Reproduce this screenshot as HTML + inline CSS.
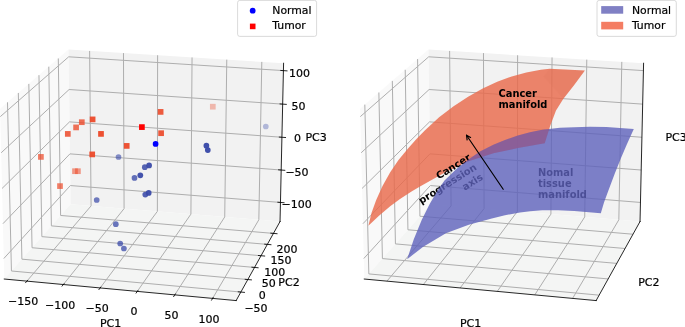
<!DOCTYPE html>
<html><head><meta charset="utf-8"><title>PCA manifolds</title>
<style>html,body{margin:0;padding:0;background:#fff;}svg{display:block;}text{stroke:#000;stroke-width:0.2px;}text.b{stroke:none;}</style>
</head><body>
<svg width="685" height="327" viewBox="0 0 685 327" font-family="'DejaVu Sans', 'Liberation Sans', sans-serif" font-size="11" fill="#000">
<rect width="685" height="327" fill="#fff"/>
<polygon points="4.29,279.04 70.61,204.19 68.59,49.6 0.11,108.68" fill="#f9f9f9" />
<polygon points="70.61,204.19 280.04,221.53 283.59,63.26 68.59,49.6" fill="#f2f2f2" />
<polygon points="4.29,279.04 236.13,300.58 280.04,221.53 70.61,204.19" fill="#f4f5f4" />
<g stroke="#aeaeae" stroke-width="1.0" fill="none" stroke-linejoin="round">
<polyline points="26.91,281.14 91.09,205.89 89.61,50.94"/>
<polyline points="63.37,284.53 124.09,208.62 123.47,53.09"/>
<polyline points="100.16,287.95 157.36,211.37 157.61,55.26"/>
<polyline points="137.29,291.4 190.91,214.15 192.05,57.44"/>
<polyline points="174.77,294.88 224.73,216.95 226.78,59.65"/>
<polyline points="212.6,298.39 258.84,219.77 261.81,61.87"/>
<polyline points="240.86,292.06 11.43,270.99 7.49,102.31"/>
<polyline points="247.81,279.54 21.9,259.17 18.33,92.96"/>
<polyline points="254.54,267.44 32.05,247.72 28.82,83.91"/>
<polyline points="261.04,255.73 41.87,236.63 38.96,75.16"/>
<polyline points="267.34,244.39 51.39,225.88 48.79,66.69"/>
<polyline points="273.45,233.4 60.62,215.46 58.31,58.48"/>
<polyline points="3.79,258.54 70.37,185.54 280.47,202.44"/>
<polyline points="2.94,223.7 69.95,153.87 281.2,170.03"/>
<polyline points="2.07,188.44 69.54,121.86 281.93,137.26"/>
<polyline points="1.19,152.75 69.11,89.5 282.67,104.13"/>
<polyline points="0.31,116.63 68.69,56.8 283.43,70.62"/>
</g>
<g stroke="#000" stroke-width="0.85" fill="none" stroke-linecap="square">
<polyline points="4.29,279.04 236.13,300.58"/>
<polyline points="236.13,300.58 280.04,221.53"/>
<polyline points="280.04,221.53 283.59,63.26"/>
<polyline points="27.56,280.38 25.61,282.67"/>
<polyline points="63.99,283.75 62.12,286.09"/>
<polyline points="100.76,287.15 98.96,289.55"/>
<polyline points="137.86,290.58 136.15,293.04"/>
<polyline points="175.31,294.04 173.69,296.56"/>
<polyline points="213.11,297.53 211.59,300.12"/>
<polyline points="238.27,291.82 244.45,292.38"/>
<polyline points="245.22,279.31 251.4,279.87"/>
<polyline points="251.95,267.21 258.12,267.76"/>
<polyline points="258.45,255.5 264.63,256.04"/>
<polyline points="264.75,244.17 270.93,244.69"/>
<polyline points="270.85,233.18 277.03,233.7"/>
<polyline points="277.88,202.24 284.06,202.73"/>
<polyline points="278.6,169.83 284.79,170.31"/>
<polyline points="279.34,137.07 285.52,137.52"/>
<polyline points="280.08,103.95 286.27,104.37"/>
<polyline points="280.83,70.46 287.02,70.86"/>
</g>
<text x="23.2" y="304.8" text-anchor="middle" >−150</text>
<text x="60.2" y="308.6" text-anchor="middle" >−100</text>
<text x="97.2" y="312" text-anchor="middle" >−50</text>
<text x="133.9" y="315.3" text-anchor="middle" >0</text>
<text x="171.6" y="318.7" text-anchor="middle" >50</text>
<text x="209.1" y="322.5" text-anchor="middle" >100</text>
<text x="286.9" y="252.5" text-anchor="middle" >200</text>
<text x="281" y="264.3" text-anchor="middle" >150</text>
<text x="274.8" y="275.6" text-anchor="middle" >100</text>
<text x="268.7" y="286.8" text-anchor="middle" >50</text>
<text x="262.3" y="299.2" text-anchor="middle" >0</text>
<text x="256" y="312.1" text-anchor="middle" >−50</text>
<text x="299.6" y="76.9" text-anchor="middle" >100</text>
<text x="298.6" y="110.2" text-anchor="middle" >50</text>
<text x="297.5" y="142.4" text-anchor="middle" >0</text>
<text x="297" y="175.5" text-anchor="middle" >−50</text>
<text x="296.7" y="208" text-anchor="middle" >−100</text>
<text x="110.6" y="326.6" text-anchor="middle" >PC1</text>
<text x="289" y="286.3" text-anchor="middle" >PC2</text>
<text x="316.1" y="141" text-anchor="middle" >PC3</text>
<rect x="89.75" y="116.55" width="5.7" height="5.7" fill="#ec4a2a" fill-opacity="0.95"/>
<rect x="78.95" y="119.35" width="5.7" height="5.7" fill="#ec4a2a" fill-opacity="0.8"/>
<rect x="73.25" y="124.55" width="5.7" height="5.7" fill="#ec4a2a" fill-opacity="0.78"/>
<rect x="64.95" y="131.05" width="5.7" height="5.7" fill="#ec4a2a" fill-opacity="0.85"/>
<rect x="98.15" y="131.05" width="5.7" height="5.7" fill="#ec4a2a" fill-opacity="0.97"/>
<rect x="123.85" y="143.05" width="5.7" height="5.7" fill="#ec4a2a" fill-opacity="0.95"/>
<rect x="89.35" y="151.55" width="5.7" height="5.7" fill="#ec4a2a" fill-opacity="0.95"/>
<rect x="38.05" y="154.05" width="5.7" height="5.7" fill="#ec4a2a" fill-opacity="0.72"/>
<rect x="72.15" y="168.35" width="5.7" height="5.7" fill="#ec4a2a" fill-opacity="0.55"/>
<rect x="75.05" y="168.35" width="5.7" height="5.7" fill="#ec4a2a" fill-opacity="0.55"/>
<rect x="57.15" y="183.25" width="5.7" height="5.7" fill="#ec4a2a" fill-opacity="0.7"/>
<rect x="157.75" y="109.05" width="5.7" height="5.7" fill="#ec4a2a" fill-opacity="0.9"/>
<rect x="158.25" y="130.35" width="5.7" height="5.7" fill="#ec4a2a" fill-opacity="0.92"/>
<rect x="209.95" y="103.85" width="5.7" height="5.7" fill="#ec4a2a" fill-opacity="0.35"/>
<circle cx="118.5" cy="157" r="2.85" fill="#3a4aa8" fill-opacity="0.62"/>
<circle cx="149.1" cy="165.4" r="2.85" fill="#3a4aa8" fill-opacity="0.95"/>
<circle cx="144.8" cy="167.2" r="2.85" fill="#3a4aa8" fill-opacity="0.85"/>
<circle cx="140.3" cy="175.3" r="2.85" fill="#3a4aa8" fill-opacity="0.95"/>
<circle cx="134.5" cy="177.9" r="2.85" fill="#3a4aa8" fill-opacity="0.78"/>
<circle cx="148.7" cy="192.9" r="2.85" fill="#3a4aa8" fill-opacity="0.95"/>
<circle cx="145.3" cy="194.6" r="2.85" fill="#3a4aa8" fill-opacity="0.88"/>
<circle cx="96.7" cy="200" r="2.85" fill="#3a4aa8" fill-opacity="0.72"/>
<circle cx="115.8" cy="224.2" r="2.85" fill="#3a4aa8" fill-opacity="0.75"/>
<circle cx="120.2" cy="243.5" r="2.85" fill="#3a4aa8" fill-opacity="0.75"/>
<circle cx="123.9" cy="248.5" r="2.85" fill="#3a4aa8" fill-opacity="0.75"/>
<circle cx="206.4" cy="145.7" r="2.85" fill="#3a4aa8" fill-opacity="0.97"/>
<circle cx="207.8" cy="150.1" r="2.85" fill="#3a4aa8" fill-opacity="0.97"/>
<circle cx="265.8" cy="126.5" r="2.85" fill="#3a4aa8" fill-opacity="0.35"/>
<rect x="139.05" y="124.25" width="5.7" height="5.7" fill="#f00"/>
<circle cx="155.6" cy="143.9" r="2.85" fill="#00f"/>
<rect x="237.6" y="0.4" width="79.00000000000003" height="36.0" rx="2.2" ry="2.2" fill="#fff" fill-opacity="0.8" stroke="#ccc" stroke-opacity="0.8" stroke-width="0.9"/>
<circle cx="252.7" cy="10.7" r="2.9" fill="#00f"/>
<rect x="249.9" y="23.6" width="5.6" height="5.6" fill="#f00"/>
<text x="272.3" y="13.5" text-anchor="start" font-size="10.85">Normal</text>
<text x="272.3" y="29.2" text-anchor="start" font-size="10.85">Tumor</text>
<polygon points="364.29,279.04 430.61,204.19 428.59,49.6 360.11,108.68" fill="#f9f9f9" />
<polygon points="430.61,204.19 640.04,221.53 643.59,63.26 428.59,49.6" fill="#f2f2f2" />
<polygon points="364.29,279.04 596.13,300.58 640.04,221.53 430.61,204.19" fill="#f4f5f4" />
<g stroke="#aeaeae" stroke-width="1.0" fill="none" stroke-linejoin="round">
<polyline points="386.91,281.14 451.09,205.89 449.61,50.94"/>
<polyline points="423.37,284.53 484.09,208.62 483.47,53.09"/>
<polyline points="460.16,287.95 517.36,211.37 517.61,55.26"/>
<polyline points="497.29,291.4 550.91,214.15 552.05,57.44"/>
<polyline points="534.77,294.88 584.73,216.95 586.78,59.65"/>
<polyline points="572.6,298.39 618.84,219.77 621.81,61.87"/>
<polyline points="599.15,295.15 368.84,273.91 364.82,104.62"/>
<polyline points="608.15,278.93 382.41,258.59 378.86,92.5"/>
<polyline points="616.78,263.4 395.43,243.9 392.32,80.9"/>
<polyline points="625.05,248.51 407.93,229.79 405.21,69.77"/>
<polyline points="632.99,234.22 419.93,216.24 417.59,59.09"/>
<polyline points="363.79,258.54 430.37,185.54 640.47,202.44"/>
<polyline points="362.94,223.7 429.95,153.87 641.2,170.03"/>
<polyline points="362.07,188.44 429.54,121.86 641.93,137.26"/>
<polyline points="361.19,152.75 429.11,89.5 642.67,104.13"/>
<polyline points="360.31,116.63 428.69,56.8 643.43,70.62"/>
</g>
<g stroke="#000" stroke-width="0.85" fill="none" stroke-linecap="square">
<polyline points="364.29,279.04 596.13,300.58"/>
<polyline points="596.13,300.58 640.04,221.53"/>
<polyline points="640.04,221.53 643.59,63.26"/>
</g>
<text x="470.6" y="326.6" text-anchor="middle" >PC1</text>
<text x="648.8" y="285.9" text-anchor="middle" >PC2</text>
<text x="665.4" y="140.7" text-anchor="start" >PC3</text>
<polygon points="368.4,225.7 371.5,213 376.1,200.3 382.5,186 390.2,172.2 398.5,160 407.8,148.8 416,139.6 424.5,130.7 439.1,117.3 453.6,106.2 468.1,96.7 482.7,88.6 497.2,81.8 511.7,76.5 526.3,72.5 540.8,69.8 549.6,68.7 584.9,70.4 574.2,84.9 563.2,98.9 556,110.6 550.5,125 544.7,143.2 517.9,148 493.4,153.3 467.7,161.4 444.5,172.8 432,179.8 420,186.5 411.5,191.5 400,199 390.2,206.3 379,215.8" fill="#e96a4c" fill-opacity="0.82"/>
<polygon points="549.6,68.9 584.9,70.4 563.5,98.9 543.2,76.4" fill="#b0402c" fill-opacity="0.04"/>
<text transform="translate(498.5,96.7)" class="b" font-weight="bold" font-size="9.9"><tspan x="0" y="0">Cancer</tspan><tspan x="0" y="11.1">manifold</tspan></text>
<text transform="translate(538,176.2)" class="b" font-weight="bold" font-size="9.9"><tspan x="0" y="0">Nomal</tspan><tspan x="0" y="11">tissue</tspan><tspan x="0" y="22">manifold</tspan></text>
<text transform="translate(477.5,169) rotate(-32)" text-anchor="end" class="b" font-weight="bold" font-size="9.9"><tspan x="0" y="-11.6">Cancer</tspan><tspan x="0" y="0">progression</tspan><tspan x="0" y="11.6">axis</tspan></text>
<polygon points="407.1,259.2 413.8,239.3 421.8,219.8 429.8,203.8 437.9,190 444.5,180.5 456.7,168.7 468.9,159.2 480,151.4 493.4,144.7 505,140 517.9,135.6 530,132.3 542.4,129.8 560,127.8 574.3,127.3 590,126.8 606.4,127.1 620,127.9 633.8,129 627,144 621,158 614.8,173.5 608.6,190 604,202.6 600.8,213.3 574.3,211 558,210.2 542.1,210.2 530,211.2 520,212.6 505,215.2 491.8,218.6 468.8,224.7 445.9,233.3 422.9,247.1" fill="#5e62bc" fill-opacity="0.8"/>
<clipPath id="oc"><polygon points="368.4,225.7 371.5,213 376.1,200.3 382.5,186 390.2,172.2 398.5,160 407.8,148.8 416,139.6 424.5,130.7 439.1,117.3 453.6,106.2 468.1,96.7 482.7,88.6 497.2,81.8 511.7,76.5 526.3,72.5 540.8,69.8 549.6,68.7 584.9,70.4 574.2,84.9 563.2,98.9 556,110.6 550.5,125 544.7,143.2 517.9,148 493.4,153.3 467.7,161.4 444.5,172.8 432,179.8 420,186.5 411.5,191.5 400,199 390.2,206.3 379,215.8"/></clipPath>
<polygon points="407.1,259.2 413.8,239.3 421.8,219.8 429.8,203.8 437.9,190 444.5,180.5 456.7,168.7 468.9,159.2 480,151.4 493.4,144.7 505,140 517.9,135.6 530,132.3 542.4,129.8 560,127.8 574.3,127.3 590,126.8 606.4,127.1 620,127.9 633.8,129 627,144 621,158 614.8,173.5 608.6,190 604,202.6 600.8,213.3 574.3,211 558,210.2 542.1,210.2 530,211.2 520,212.6 505,215.2 491.8,218.6 468.8,224.7 445.9,233.3 422.9,247.1" fill="#d03c50" fill-opacity="0.2" clip-path="url(#oc)"/>
<g stroke="#000" stroke-width="1.15" fill="none" stroke-linecap="round" stroke-linejoin="round"><polyline points="503.2,189.3 466.5,135.2"/><polyline points="470.6,137.5 466.5,135.2 467.12,139.85"/></g>
<rect x="597" y="0.4" width="79.29999999999995" height="36.0" rx="2.2" ry="2.2" fill="#fff" fill-opacity="0.8" stroke="#ccc" stroke-opacity="0.8" stroke-width="0.9"/>
<rect x="601.2" y="6.1" width="22" height="7.6" fill="#8080c4"/>
<rect x="601.2" y="21.8" width="22" height="7.6" fill="#f47d63"/>
<text x="631.9" y="13.5" text-anchor="start" font-size="10.85">Normal</text>
<text x="631.9" y="29.2" text-anchor="start" font-size="10.85">Tumor</text>
</svg>
</body></html>
